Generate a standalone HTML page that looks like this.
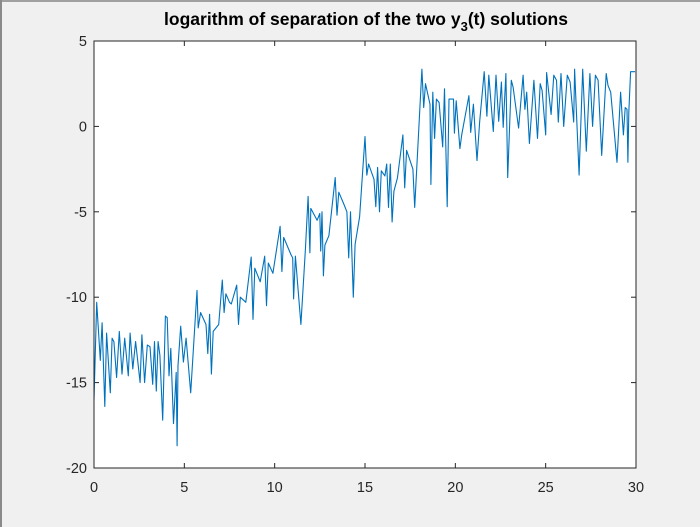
<!DOCTYPE html>
<html><head><meta charset="utf-8"><style>
html,body{margin:0;padding:0;background:#f0f0f0;width:700px;height:527px;overflow:hidden}
svg{display:block;font-family:"Liberation Sans",sans-serif}
</style></head><body>
<svg id="chart" width="700" height="527" xmlns="http://www.w3.org/2000/svg">
<rect x="0" y="0" width="700" height="527" fill="#f0f0f0"/>
<rect x="0" y="0" width="700" height="2" fill="#a0a0a0"/>
<rect x="0" y="0" width="2" height="527" fill="#8a8a8a"/>
<rect x="94" y="41" width="542" height="427" fill="#fff"/>
<g id="ticks"></g>
<polyline id="series" fill="none" stroke="#0072bd" stroke-width="1.1" stroke-linejoin="round"/>
<rect x="94" y="41" width="542" height="427" fill="none" stroke="#262626" stroke-width="1"/>
<text x="366" y="25" text-anchor="middle" font-size="17.5" font-weight="bold" fill="#000">logarithm of separation of the two y<tspan font-size="13" dy="6">3</tspan><tspan dy="-6">(t) solutions</tspan></text>
</svg>
<script>
const tVals=[0,0.15,0.35,0.45,0.6,0.7,0.9,1.0,1.1,1.25,1.4,1.55,1.7,1.9,2.0,2.15,2.3,2.55,2.65,2.8,2.95,3.1,3.25,3.35,3.45,3.55,3.65,3.8,3.95,4.05,4.15,4.25,4.4,4.55,4.6,4.65,4.8,4.95,5.1,5.35,5.7,5.77,5.9,6.2,6.3,6.4,6.5,6.6,6.9,7.1,7.2,7.3,7.5,7.6,7.9,8.0,8.1,8.4,8.7,8.8,8.9,9.2,9.45,9.55,9.65,9.9,10.3,10.4,10.5,10.9,11.0,11.05,11.15,11.45,11.7,11.85,11.95,12.0,12.35,12.5,12.55,12.62,12.7,12.78,13.0,13.35,13.45,13.55,13.85,14.0,14.1,14.2,14.35,14.45,14.7,15.0,15.1,15.2,15.5,15.6,15.7,15.8,15.9,16.1,16.2,16.3,16.4,16.5,16.6,16.8,17.1,17.2,17.3,17.65,17.75,18.15,18.25,18.35,18.6,18.65,18.75,18.85,18.95,19.1,19.3,19.4,19.55,19.65,19.9,19.95,20.05,20.25,20.35,20.75,20.85,21.0,21.2,21.35,21.6,21.75,21.85,22.1,22.25,22.4,22.55,22.65,22.8,22.9,23.1,23.2,23.5,23.75,23.85,23.95,24.1,24.35,24.55,24.7,24.8,25.0,25.05,25.3,25.45,25.6,25.7,25.85,26.0,26.2,26.35,26.55,26.6,26.85,27.05,27.25,27.45,27.6,27.75,27.9,28.1,28.35,28.45,28.6,28.95,29.15,29.3,29.4,29.5,29.55,29.6,29.7,29.95,30.0];
const yVals=[-16,-10.3,-13.7,-11.5,-16.4,-12.1,-15.6,-12.4,-12.6,-14.7,-12.0,-14.5,-12.4,-14.6,-12.1,-14.2,-12.6,-15.0,-12.2,-15.0,-12.8,-12.9,-15.1,-12.6,-15.5,-12.6,-13.4,-17.2,-11.1,-11.2,-14.6,-13.0,-17.4,-14.4,-18.7,-14.0,-11.7,-13.8,-12.4,-15.6,-9.6,-11.8,-10.9,-11.6,-13.3,-11.0,-14.5,-12.0,-11.6,-9.0,-10.9,-9.8,-10.3,-10.4,-9.3,-11.6,-10.0,-10.3,-7.65,-11.3,-8.3,-9.1,-7.6,-10.5,-8.0,-8.6,-5.85,-8.5,-6.5,-7.5,-7.7,-10.1,-7.6,-11.6,-7.2,-4.1,-7.4,-4.8,-5.5,-5.1,-7.3,-5.0,-8.75,-6.95,-6.4,-3.0,-5.2,-3.85,-4.6,-5.0,-7.7,-5.0,-10.0,-6.9,-5.3,-0.6,-2.85,-2.2,-3.1,-4.7,-2.4,-5.0,-2.6,-2.9,-2.2,-4.75,-2.2,-5.6,-3.8,-3.0,-0.5,-3.6,-1.4,-2.5,-4.75,3.35,1.1,2.5,1.3,-3.4,2.0,-0.7,1.6,1.4,-1.2,2.2,-4.7,1.6,1.6,-0.4,1.5,-1.3,-0.5,1.8,-0.35,1.3,-2.0,0.3,3.2,0.6,3.0,-0.3,3.0,0.3,2.6,-0.05,3.1,-3.0,2.7,2.3,-0.1,3.0,1.0,2.0,-1.0,2.7,-0.7,2.5,2.1,-0.5,3.15,0.7,3.0,2.7,0.25,3.1,0.0,3.0,2.6,0.25,3.35,-2.85,3.35,-1.45,3.1,0.0,3.0,2.7,-1.7,3.1,2.4,2.0,-2.1,2.0,-0.5,1.1,1.0,-2.1,0.8,3.2,3.2];
const xTicks=[0,5,10,15,20,25,30];
const yTicks=[5,0,-5,-10,-15,-20];
const X0=94,X1=636,Y0=468,Y1=41;
const xs=v=>X0+(v-0)/(30-0)*(X1-X0);
const ys=v=>Y0-(v-(-20))/(5-(-20))*(Y0-Y1);
const NS='http://www.w3.org/2000/svg';
const g=document.getElementById('ticks');
const svg=document.getElementById('chart');
xTicks.forEach(t=>{
 const x=xs(t);
 [[Y0,Y0-5],[Y1,Y1+5]].forEach(([a,b])=>{
  const l=document.createElementNS(NS,'line');
  
  
  l.setAttribute('x1',x);l.setAttribute('x2',x);l.setAttribute('y1',a);l.setAttribute('y2',b);
  l.setAttribute('stroke','#262626');g.appendChild(l);});
 const tx=document.createElementNS(NS,'text');
 
 
 tx.setAttribute('x',x);tx.setAttribute('y',Y0+24);tx.setAttribute('text-anchor','middle');
 tx.setAttribute('font-size','14.5');tx.setAttribute('fill','#262626');tx.textContent=t;svg.appendChild(tx);
});
yTicks.forEach(t=>{
 const y=ys(t);
 [[X0,X0+5],[X1,X1-5]].forEach(([a,b])=>{
  const l=document.createElementNS(NS,'line');
  
  
  l.setAttribute('y1',y);l.setAttribute('y2',y);l.setAttribute('x1',a);l.setAttribute('x2',b);
  l.setAttribute('stroke','#262626');g.appendChild(l);});
 const tx=document.createElementNS(NS,'text');
 
 
 tx.setAttribute('x',X0-7);tx.setAttribute('y',y+5);tx.setAttribute('text-anchor','end');
 tx.setAttribute('font-size','14.5');tx.setAttribute('fill','#262626');tx.textContent=t;svg.appendChild(tx);
});
document.getElementById('series').setAttribute('points',tVals.map((t,i)=>xs(t).toFixed(1)+','+ys(yVals[i]).toFixed(1)).join(' '));
</script>
</body></html>
